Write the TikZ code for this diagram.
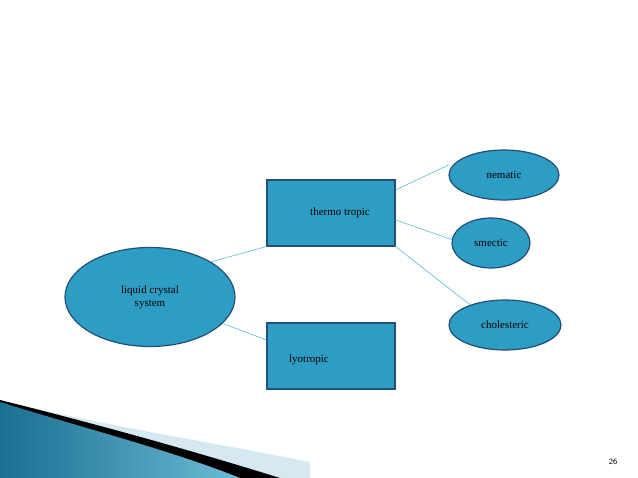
\documentclass[tikz,border=0pt]{standalone}
\usetikzlibrary{shapes.geometric}
\usepackage{fontspec}
\setmainfont{Liberation Serif}
\definecolor{fillc}{HTML}{2E9DC4}
\definecolor{edgec}{HTML}{1F4E79}
\definecolor{linec}{HTML}{5BB8D8}
\definecolor{darkteal}{HTML}{1A7090}
\definecolor{pale}{HTML}{D6E9F2}
\tikzset{
 ell/.style={ellipse,draw=edgec,line width=1.2pt,fill=fillc,inner sep=0pt,font=\fontsize{11}{13}\selectfont},
 box/.style={rectangle,draw=edgec,line width=1.2pt,fill=fillc,inner sep=0pt,minimum width=128pt,minimum height=66pt},
 conn/.style={draw=linec,line width=0.6pt}
}
\begin{document}
\begin{tikzpicture}[x=1pt,y=-1pt]
\useasboundingbox (0,0) rectangle (638,478);
% decoration
\fill[pale] (0,400) .. controls (100,425) and (200,440) .. (310,462) -- (310,478) -- (0,478) -- cycle;
\fill[black] (0,400) .. controls (100,425) and (190,450) .. (280,478) -- (0,478) -- cycle;
\shade[left color=darkteal,right color=fillc!70!white] (0,402) .. controls (90,430) and (170,450) .. (240,478) -- (0,478) -- cycle;
% nodes
\node[ell,minimum width=170pt,minimum height=99pt,align=center] (lc) at (150,297) {liquid crystal\\system};
\node[box] (tt) at (331,213) {};
\node[font=\fontsize{11}{13}\selectfont] at (340,213) {thermo tropic};
\node[box] (ly) at (331,356) {};
\node[font=\fontsize{11}{13}\selectfont] at (309,360) {lyotropic};
\node[ell,minimum width=110pt,minimum height=50pt] (ne) at (504,175) {nematic};
\node[ell,minimum width=78pt,minimum height=50pt] (sm) at (491,243) {smectic};
\node[ell,minimum width=112pt,minimum height=50pt] (ch) at (505,325) {cholesteric};
% connectors
\draw[conn] (lc.30) -- (tt.south west);
\draw[conn] (lc.-20) -- (ly.west |- 0,340);
\draw[conn] (tt.east |- 0,190) -- (ne.west |- 0,165);
\draw[conn] (tt.east |- 0,220) -- (sm.175);
\draw[conn] (tt.south east) -- (ch.150);
\node[font=\sffamily\fontsize{8}{10}\selectfont] (pg) at (613,462) {26};
\end{tikzpicture}
\end{document}
